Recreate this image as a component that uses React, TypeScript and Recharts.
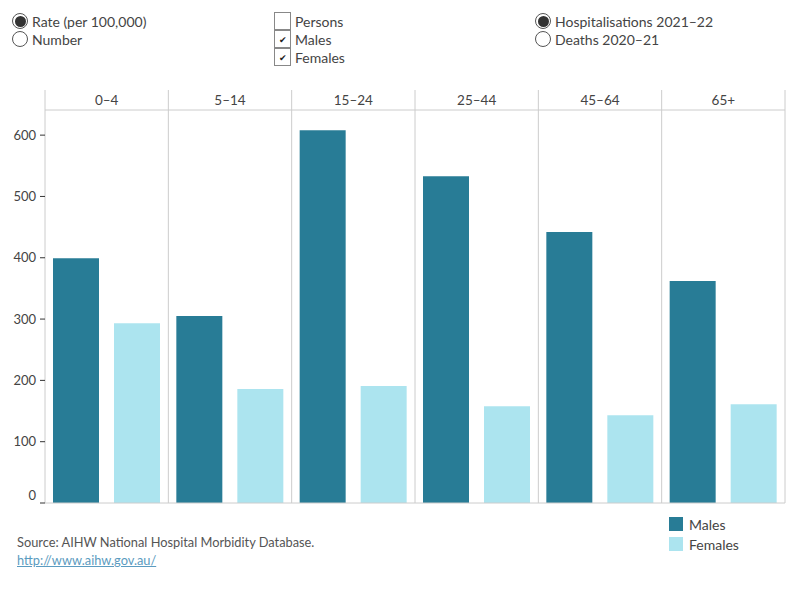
import React from "react";
import { Bar, BarChart, CartesianGrid, Legend, XAxis, YAxis } from "recharts";

const AGE_GROUPS = ["0–4", "5–14", "15–24", "25–44", "45–64", "65+"];
const MALES = [399, 305, 608, 533, 442, 362];
const FEMALES = [293, 186, 191, 158, 143, 161];
const Y_TICKS = [0, 100, 200, 300, 400, 500, 600];

const MALE_COLOR = "#287c96";
const FEMALE_COLOR = "#ace4ef";
const FONT = "Lato, 'Noto Sans', sans-serif";
const TEXT = "#444";

const data = AGE_GROUPS.map((age, i) => ({
  age,
  Males: MALES[i],
  Females: FEMALES[i],
}));

const CHART_W = 800;
const CHART_H = 600;
const MARGIN = { top: 90, right: 15, bottom: 96, left: 0 };
const Y_AXIS_W = 45;
const HEADER_H = 20;
const PLOT_W = CHART_W - MARGIN.left - MARGIN.right - Y_AXIS_W;
const BAND = PLOT_W / AGE_GROUPS.length;

function HeaderTick(props: any) {
  const { x, payload, index } = props;
  const top = MARGIN.top;
  return (
    <g>
      {index === 0 && (
        <line x1={x - BAND / 2} x2={x - BAND / 2} y1={top} y2={top + HEADER_H} stroke="#cccccc" />
      )}
      <line x1={x + BAND / 2} x2={x + BAND / 2} y1={top} y2={top + HEADER_H} stroke="#cccccc" />
      <text x={x} y={top + 14.5} textAnchor="middle" fontSize={13.5} fill={TEXT} fontFamily={FONT}>
        {payload.value}
      </text>
    </g>
  );
}

function YTick(props: any) {
  const { x, y, payload } = props;
  const dy = payload.value === 0 ? -8 : 0;
  return (
    <text x={x - 2} y={y + dy} dy={4.5} textAnchor="end" fontSize={13} fill={TEXT} fontFamily={FONT}>
      {payload.value}
    </text>
  );
}

function LegendContent() {
  const items = [
    { name: "Males", color: MALE_COLOR },
    { name: "Females", color: FEMALE_COLOR },
  ];
  return (
    <div style={{ fontFamily: FONT, fontSize: 14, color: TEXT }}>
      {items.map((it) => (
        <div key={it.name} style={{ display: "flex", alignItems: "center", height: 20 }}>
          <span style={{ width: 14, height: 14, background: it.color, marginRight: 6 }} />
          <span>{it.name}</span>
        </div>
      ))}
    </div>
  );
}

function Radio({ x, y, label, checked }: { x: number; y: number; label: string; checked: boolean }) {
  return (
    <div style={{ position: "absolute", left: x, top: y, display: "flex", alignItems: "center", height: 18 }}>
      <span
        style={{
          width: 14,
          height: 14,
          borderRadius: "50%",
          border: "1px solid #555",
          display: "flex",
          alignItems: "center",
          justifyContent: "center",
          marginRight: 4,
          background: "#fff",
        }}
      >
        {checked && <span style={{ width: 11, height: 11, borderRadius: "50%", background: "#333" }} />}
      </span>
      <span>{label}</span>
    </div>
  );
}

function Check({ x, y, label, checked }: { x: number; y: number; label: string; checked: boolean }) {
  return (
    <div style={{ position: "absolute", left: x, top: y, display: "flex", alignItems: "center", height: 18 }}>
      <span
        style={{
          width: 15,
          height: 16,
          border: "1px solid #888",
          display: "flex",
          alignItems: "center",
          justifyContent: "center",
          marginRight: 4,
          fontSize: 9,
          color: "#222",
        }}
      >
        {checked ? "✔" : ""}
      </span>
      <span>{label}</span>
    </div>
  );
}

export default function App() {
  return (
    <div
      style={{
        position: "absolute",
        left: 0,
        top: 0,
        width: CHART_W,
        height: CHART_H,
        background: "#fff",
        fontFamily: FONT,
        fontSize: 14,
        color: TEXT,
      }}
    >
      <Radio x={12} y={12} label="Rate (per 100,000)" checked />
      <Radio x={12} y={30} label="Number" checked={false} />
      <Check x={274} y={12} label="Persons" checked={false} />
      <Check x={274} y={30} label="Males" checked />
      <Check x={274} y={48} label="Females" checked />
      <Radio x={535} y={12} label="Hospitalisations 2021–22" checked />
      <Radio x={535} y={30} label="Deaths 2020–21" checked={false} />

      <div style={{ position: "absolute", left: 0, top: 0 }}>
        <BarChart
          width={CHART_W}
          height={CHART_H}
          data={data}
          margin={MARGIN}
          barSize={46}
          barGap={15}
        >
          <CartesianGrid
            horizontal={false}
            stroke="#cccccc"
            verticalCoordinatesGenerator={({ offset }: any) =>
              AGE_GROUPS.map((_, i) => offset.left + (i + 1) * (offset.width / AGE_GROUPS.length))
            }
          />
          <XAxis
            xAxisId="top"
            orientation="top"
            dataKey="age"
            height={HEADER_H}
            tickLine={false}
            axisLine={{ stroke: "#cccccc" }}
            tick={<HeaderTick />}
            interval={0}
          />
          <XAxis
            dataKey="age"
            height={1}
            tick={false}
            tickLine={false}
            axisLine={{ stroke: "#cccccc" }}
          />
          <YAxis
            width={Y_AXIS_W}
            domain={[0, 641]}
            ticks={Y_TICKS}
            interval={0}
            tickSize={5}
            tickLine={{ stroke: "#333" }}
            axisLine={{ stroke: "#cccccc" }}
            tick={<YTick />}
          />
          <Bar dataKey="Males" fill={MALE_COLOR} isAnimationActive={false} />
          <Bar dataKey="Females" fill={FEMALE_COLOR} isAnimationActive={false} />
          <Legend
            layout="vertical"
            verticalAlign="middle"
            align="center"
            content={<LegendContent />}
            wrapperStyle={{ position: "absolute", left: 669, top: 514, width: 100 }}
          />
        </BarChart>
      </div>

      <div style={{ position: "absolute", left: 17, top: 534, fontSize: 12.8, color: "#555" }}>
        Source: AIHW National Hospital Morbidity Database.
      </div>
      <div style={{ position: "absolute", left: 17, top: 552, fontSize: 12.8 }}>
        <a href="http://www.aihw.gov.au/" style={{ color: "#5b9bc0" }}>
          http://www.aihw.gov.au/
        </a>
      </div>
    </div>
  );
}
